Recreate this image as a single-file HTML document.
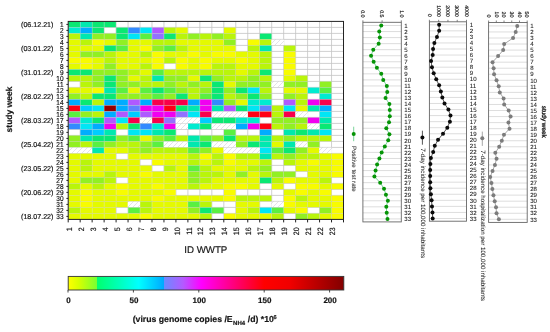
<!DOCTYPE html><html><head><meta charset="utf-8"><title>figure</title><style>
html,body{margin:0;padding:0;background:#fff;width:550px;height:332px;overflow:hidden}
svg{display:block}
text{font-family:"Liberation Sans",Arial,Helvetica,sans-serif;fill:#151515;stroke:#151515;stroke-width:0.18px;text-rendering:geometricPrecision}
</style></head><body>
<svg width="550" height="332" viewBox="0 0 550 332">
<defs><pattern id="hatch" patternUnits="userSpaceOnUse" width="5" height="5"><rect width="5" height="5" fill="#fff"/><path d="M-1,1 l2,-2 M0,5 l5,-5 M4,6 l2,-2" stroke="#dcdce4" stroke-width="0.8"/></pattern>
<linearGradient id="cb" x1="0" x2="1" y1="0" y2="0">
<stop offset="0.0000" stop-color="#ffff00"/>
<stop offset="0.0379" stop-color="#d7ff00"/>
<stop offset="0.1043" stop-color="#78ff32"/>
<stop offset="0.1043" stop-color="#00ff6e"/>
<stop offset="0.1896" stop-color="#00ffbe"/>
<stop offset="0.2559" stop-color="#00ffff"/>
<stop offset="0.3460" stop-color="#00aaff"/>
<stop offset="0.3460" stop-color="#698cff"/>
<stop offset="0.4171" stop-color="#b45aff"/>
<stop offset="0.4834" stop-color="#ff00ff"/>
<stop offset="0.7109" stop-color="#ff0000"/>
<stop offset="0.8057" stop-color="#f00000"/>
<stop offset="1.0000" stop-color="#820000"/>
</linearGradient></defs>
<path d="M80.17 21.40V219.40M92.14 21.40V219.40M104.11 21.40V219.40M116.08 21.40V219.40M128.05 21.40V219.40M140.02 21.40V219.40M151.99 21.40V219.40M163.96 21.40V219.40M175.93 21.40V219.40M187.90 21.40V219.40M199.87 21.40V219.40M211.84 21.40V219.40M223.81 21.40V219.40M235.78 21.40V219.40M247.75 21.40V219.40M259.72 21.40V219.40M271.69 21.40V219.40M283.66 21.40V219.40M295.63 21.40V219.40M307.60 21.40V219.40M319.57 21.40V219.40M331.54 21.40V219.40M68.20 27.40H343.51M68.20 33.40H343.51M68.20 39.40H343.51M68.20 45.40H343.51M68.20 51.40H343.51M68.20 57.40H343.51M68.20 63.40H343.51M68.20 69.40H343.51M68.20 75.40H343.51M68.20 81.40H343.51M68.20 87.40H343.51M68.20 93.40H343.51M68.20 99.40H343.51M68.20 105.40H343.51M68.20 111.40H343.51M68.20 117.40H343.51M68.20 123.40H343.51M68.20 129.40H343.51M68.20 135.40H343.51M68.20 141.40H343.51M68.20 147.40H343.51M68.20 153.40H343.51M68.20 159.40H343.51M68.20 165.40H343.51M68.20 171.40H343.51M68.20 177.40H343.51M68.20 183.40H343.51M68.20 189.40H343.51M68.20 195.40H343.51M68.20 201.40H343.51M68.20 207.40H343.51M68.20 213.40H343.51" stroke="#c4c4c4" stroke-width="0.8" fill="none"/>
<rect x="68.40" y="21.60" width="11.57" height="5.60" fill="#0ae873"/>
<rect x="80.37" y="21.60" width="11.57" height="5.60" fill="#00e8af"/>
<rect x="92.34" y="21.60" width="11.57" height="5.60" fill="#0ae873"/>
<rect x="104.31" y="21.60" width="11.57" height="5.60" fill="#0ae873"/>
<rect x="68.40" y="27.60" width="11.57" height="5.60" fill="#00ebd0"/>
<rect x="80.37" y="27.60" width="11.57" height="5.60" fill="#00acff"/>
<rect x="92.34" y="27.60" width="11.57" height="5.60" fill="#0ae873"/>
<rect x="116.28" y="27.60" width="11.57" height="5.60" fill="#0ae873"/>
<rect x="128.25" y="27.60" width="11.57" height="5.60" fill="#328aff"/>
<rect x="140.22" y="27.60" width="11.57" height="5.60" fill="#00e6f5"/>
<rect x="152.19" y="27.60" width="11.57" height="5.60" fill="#af5aff"/>
<rect x="164.16" y="27.60" width="11.57" height="5.60" fill="#b9f50a"/>
<rect x="176.13" y="27.60" width="11.57" height="5.60" fill="#e4fa00"/>
<rect x="224.01" y="27.60" width="11.57" height="5.60" fill="#e4fa00"/>
<rect x="68.40" y="33.60" width="11.57" height="5.60" fill="#b9f50a"/>
<rect x="80.37" y="33.60" width="11.57" height="5.60" fill="#00e8af"/>
<rect x="92.34" y="33.60" width="11.57" height="5.60" fill="#91f023"/>
<rect x="104.31" y="33.60" width="11.57" height="5.60" fill="#91f023"/>
<rect x="116.28" y="33.60" width="11.57" height="5.60" fill="#0ae873"/>
<rect x="128.25" y="33.60" width="11.57" height="5.60" fill="#00e6f5"/>
<rect x="140.22" y="33.60" width="11.57" height="5.60" fill="#5af041"/>
<rect x="152.19" y="33.60" width="11.57" height="5.60" fill="#9173ff"/>
<rect x="164.16" y="33.60" width="11.57" height="5.60" fill="#0ae873"/>
<rect x="176.13" y="33.60" width="11.57" height="5.60" fill="#b9f50a"/>
<rect x="188.10" y="33.60" width="11.57" height="5.60" fill="#91f023"/>
<rect x="200.07" y="33.60" width="11.57" height="5.60" fill="#b9f50a"/>
<rect x="212.04" y="33.60" width="11.57" height="5.60" fill="#91f023"/>
<rect x="224.01" y="33.60" width="11.57" height="5.60" fill="#b9f50a"/>
<rect x="259.92" y="33.60" width="11.57" height="5.60" fill="#0ae873"/>
<rect x="68.40" y="39.60" width="11.57" height="5.60" fill="#e4fa00"/>
<rect x="80.37" y="39.60" width="11.57" height="5.60" fill="#b9f50a"/>
<rect x="92.34" y="39.60" width="11.57" height="5.60" fill="#f8fc00"/>
<rect x="104.31" y="39.60" width="11.57" height="5.60" fill="#e4fa00"/>
<rect x="116.28" y="39.60" width="11.57" height="5.60" fill="#91f023"/>
<rect x="128.25" y="39.60" width="11.57" height="5.60" fill="#e4fa00"/>
<rect x="140.22" y="39.60" width="11.57" height="5.60" fill="#e4fa00"/>
<rect x="152.19" y="39.60" width="11.57" height="5.60" fill="#b9f50a"/>
<rect x="164.16" y="39.60" width="11.57" height="5.60" fill="#b9f50a"/>
<rect x="176.13" y="39.60" width="11.57" height="5.60" fill="#e4fa00"/>
<rect x="188.10" y="39.60" width="11.57" height="5.60" fill="#e4fa00"/>
<rect x="200.07" y="39.60" width="11.57" height="5.60" fill="#e4fa00"/>
<rect x="212.04" y="39.60" width="11.57" height="5.60" fill="#e4fa00"/>
<rect x="224.01" y="39.60" width="11.57" height="5.60" fill="#91f023"/>
<rect x="247.95" y="39.60" width="11.57" height="5.60" fill="#f8fc00"/>
<rect x="259.92" y="39.60" width="11.57" height="5.60" fill="#b9f50a"/>
<rect x="271.39" y="39.70" width="12.57" height="5.40" fill="url(#hatch)"/>
<rect x="68.40" y="45.60" width="11.57" height="5.60" fill="#e4fa00"/>
<rect x="80.37" y="45.60" width="11.57" height="5.60" fill="#e4fa00"/>
<rect x="92.34" y="45.60" width="11.57" height="5.60" fill="#e4fa00"/>
<rect x="104.31" y="45.60" width="11.57" height="5.60" fill="#0ae873"/>
<rect x="116.28" y="45.60" width="11.57" height="5.60" fill="#5af041"/>
<rect x="128.25" y="45.60" width="11.57" height="5.60" fill="#e4fa00"/>
<rect x="140.22" y="45.60" width="11.57" height="5.60" fill="#f8fc00"/>
<rect x="152.19" y="45.60" width="11.57" height="5.60" fill="#91f023"/>
<rect x="164.16" y="45.60" width="11.57" height="5.60" fill="#5af041"/>
<rect x="176.13" y="45.60" width="11.57" height="5.60" fill="#b9f50a"/>
<rect x="188.10" y="45.60" width="11.57" height="5.60" fill="#e4fa00"/>
<rect x="200.07" y="45.60" width="11.57" height="5.60" fill="#e4fa00"/>
<rect x="212.04" y="45.60" width="11.57" height="5.60" fill="#e4fa00"/>
<rect x="224.01" y="45.60" width="11.57" height="5.60" fill="#e4fa00"/>
<rect x="247.95" y="45.60" width="11.57" height="5.60" fill="#b9f50a"/>
<rect x="259.92" y="45.60" width="11.57" height="5.60" fill="#00e8af"/>
<rect x="283.86" y="45.60" width="11.57" height="5.60" fill="#b9f50a"/>
<rect x="68.40" y="51.60" width="11.57" height="5.60" fill="#e4fa00"/>
<rect x="80.37" y="51.60" width="11.57" height="5.60" fill="#91f023"/>
<rect x="92.34" y="51.60" width="11.57" height="5.60" fill="#91f023"/>
<rect x="104.31" y="51.60" width="11.57" height="5.60" fill="#b9f50a"/>
<rect x="116.28" y="51.60" width="11.57" height="5.60" fill="#e4fa00"/>
<rect x="128.25" y="51.60" width="11.57" height="5.60" fill="#e4fa00"/>
<rect x="140.22" y="51.60" width="11.57" height="5.60" fill="#b9f50a"/>
<rect x="152.19" y="51.60" width="11.57" height="5.60" fill="#f8fc00"/>
<rect x="164.16" y="51.60" width="11.57" height="5.60" fill="#e4fa00"/>
<rect x="176.13" y="51.60" width="11.57" height="5.60" fill="#e4fa00"/>
<rect x="188.10" y="51.60" width="11.57" height="5.60" fill="#f8fc00"/>
<rect x="200.07" y="51.60" width="11.57" height="5.60" fill="#e4fa00"/>
<rect x="212.04" y="51.60" width="11.57" height="5.60" fill="#f8fc00"/>
<rect x="224.01" y="51.60" width="11.57" height="5.60" fill="#f8fc00"/>
<rect x="235.98" y="51.60" width="11.57" height="5.60" fill="#e4fa00"/>
<rect x="247.95" y="51.60" width="11.57" height="5.60" fill="#e4fa00"/>
<rect x="259.92" y="51.60" width="11.57" height="5.60" fill="#b9f50a"/>
<rect x="283.86" y="51.60" width="11.57" height="5.60" fill="#f8fc00"/>
<rect x="68.40" y="57.60" width="11.57" height="5.60" fill="#f8fc00"/>
<rect x="80.37" y="57.60" width="11.57" height="5.60" fill="#f8fc00"/>
<rect x="92.34" y="57.60" width="11.57" height="5.60" fill="#e4fa00"/>
<rect x="104.31" y="57.60" width="11.57" height="5.60" fill="#b9f50a"/>
<rect x="116.28" y="57.60" width="11.57" height="5.60" fill="#e4fa00"/>
<rect x="128.25" y="57.60" width="11.57" height="5.60" fill="#e4fa00"/>
<rect x="140.22" y="57.60" width="11.57" height="5.60" fill="#e4fa00"/>
<rect x="152.19" y="57.60" width="11.57" height="5.60" fill="#f8fc00"/>
<rect x="164.16" y="57.60" width="11.57" height="5.60" fill="#b9f50a"/>
<rect x="176.13" y="57.60" width="11.57" height="5.60" fill="#f8fc00"/>
<rect x="188.10" y="57.60" width="11.57" height="5.60" fill="#e4fa00"/>
<rect x="200.07" y="57.60" width="11.57" height="5.60" fill="#f8fc00"/>
<rect x="212.04" y="57.60" width="11.57" height="5.60" fill="#e4fa00"/>
<rect x="224.01" y="57.60" width="11.57" height="5.60" fill="#e4fa00"/>
<rect x="235.98" y="57.60" width="11.57" height="5.60" fill="#f8fc00"/>
<rect x="247.95" y="57.60" width="11.57" height="5.60" fill="#e4fa00"/>
<rect x="259.92" y="57.60" width="11.57" height="5.60" fill="#b9f50a"/>
<rect x="283.86" y="57.60" width="11.57" height="5.60" fill="#f8fc00"/>
<rect x="68.40" y="63.60" width="11.57" height="5.60" fill="#e4fa00"/>
<rect x="80.37" y="63.60" width="11.57" height="5.60" fill="#f8fc00"/>
<rect x="92.34" y="63.60" width="11.57" height="5.60" fill="#e4fa00"/>
<rect x="104.31" y="63.60" width="11.57" height="5.60" fill="#91f023"/>
<rect x="116.28" y="63.60" width="11.57" height="5.60" fill="#e4fa00"/>
<rect x="128.25" y="63.60" width="11.57" height="5.60" fill="#e4fa00"/>
<rect x="140.22" y="63.60" width="11.57" height="5.60" fill="#b9f50a"/>
<rect x="152.19" y="63.60" width="11.57" height="5.60" fill="#f8fc00"/>
<rect x="176.13" y="63.60" width="11.57" height="5.60" fill="#f8fc00"/>
<rect x="188.10" y="63.60" width="11.57" height="5.60" fill="#e4fa00"/>
<rect x="200.07" y="63.60" width="11.57" height="5.60" fill="#f8fc00"/>
<rect x="212.04" y="63.60" width="11.57" height="5.60" fill="#b9f50a"/>
<rect x="224.01" y="63.60" width="11.57" height="5.60" fill="#b9f50a"/>
<rect x="235.98" y="63.60" width="11.57" height="5.60" fill="#e4fa00"/>
<rect x="247.95" y="63.60" width="11.57" height="5.60" fill="#e4fa00"/>
<rect x="259.92" y="63.60" width="11.57" height="5.60" fill="#b9f50a"/>
<rect x="283.86" y="63.60" width="11.57" height="5.60" fill="#f8fc00"/>
<rect x="68.40" y="69.60" width="11.57" height="5.60" fill="#0ae873"/>
<rect x="80.37" y="69.60" width="11.57" height="5.60" fill="#0ae873"/>
<rect x="92.34" y="69.60" width="11.57" height="5.60" fill="#91f023"/>
<rect x="104.31" y="69.60" width="11.57" height="5.60" fill="#91f023"/>
<rect x="116.28" y="69.60" width="11.57" height="5.60" fill="#91f023"/>
<rect x="128.25" y="69.60" width="11.57" height="5.60" fill="#b9f50a"/>
<rect x="140.22" y="69.60" width="11.57" height="5.60" fill="#e4fa00"/>
<rect x="152.19" y="69.60" width="11.57" height="5.60" fill="#5af041"/>
<rect x="164.16" y="69.60" width="11.57" height="5.60" fill="#b9f50a"/>
<rect x="176.13" y="69.60" width="11.57" height="5.60" fill="#b9f50a"/>
<rect x="188.10" y="69.60" width="11.57" height="5.60" fill="#b9f50a"/>
<rect x="200.07" y="69.60" width="11.57" height="5.60" fill="#b9f50a"/>
<rect x="212.04" y="69.60" width="11.57" height="5.60" fill="#b9f50a"/>
<rect x="224.01" y="69.60" width="11.57" height="5.60" fill="#b9f50a"/>
<rect x="235.98" y="69.60" width="11.57" height="5.60" fill="#e4fa00"/>
<rect x="247.95" y="69.60" width="11.57" height="5.60" fill="#b9f50a"/>
<rect x="259.92" y="69.60" width="11.57" height="5.60" fill="#0ae873"/>
<rect x="283.86" y="69.60" width="11.57" height="5.60" fill="#f8fc00"/>
<rect x="68.40" y="75.60" width="11.57" height="5.60" fill="#b9f50a"/>
<rect x="80.37" y="75.60" width="11.57" height="5.60" fill="#b9f50a"/>
<rect x="92.34" y="75.60" width="11.57" height="5.60" fill="#91f023"/>
<rect x="104.31" y="75.60" width="11.57" height="5.60" fill="#0ae873"/>
<rect x="116.28" y="75.60" width="11.57" height="5.60" fill="#91f023"/>
<rect x="128.25" y="75.60" width="11.57" height="5.60" fill="#e4fa00"/>
<rect x="140.22" y="75.60" width="11.57" height="5.60" fill="#b9f50a"/>
<rect x="152.19" y="75.60" width="11.57" height="5.60" fill="#00e8af"/>
<rect x="164.16" y="75.60" width="11.57" height="5.60" fill="#91f023"/>
<rect x="176.13" y="75.60" width="11.57" height="5.60" fill="#91f023"/>
<rect x="188.10" y="75.60" width="11.57" height="5.60" fill="#e4fa00"/>
<rect x="200.07" y="75.60" width="11.57" height="5.60" fill="#0ae873"/>
<rect x="212.04" y="75.60" width="11.57" height="5.60" fill="#91f023"/>
<rect x="224.01" y="75.60" width="11.57" height="5.60" fill="#b9f50a"/>
<rect x="235.98" y="75.60" width="11.57" height="5.60" fill="#b9f50a"/>
<rect x="247.95" y="75.60" width="11.57" height="5.60" fill="#91f023"/>
<rect x="259.92" y="75.60" width="11.57" height="5.60" fill="#b9f50a"/>
<rect x="283.86" y="75.60" width="11.57" height="5.60" fill="#e4fa00"/>
<rect x="295.83" y="75.60" width="11.57" height="5.60" fill="#b9f50a"/>
<rect x="80.37" y="81.60" width="11.57" height="5.60" fill="#b9f50a"/>
<rect x="92.34" y="81.60" width="11.57" height="5.60" fill="#91f023"/>
<rect x="104.31" y="81.60" width="11.57" height="5.60" fill="#0ae873"/>
<rect x="116.28" y="81.60" width="11.57" height="5.60" fill="#91f023"/>
<rect x="128.25" y="81.60" width="11.57" height="5.60" fill="#91f023"/>
<rect x="140.22" y="81.60" width="11.57" height="5.60" fill="#b9f50a"/>
<rect x="152.19" y="81.60" width="11.57" height="5.60" fill="#b9f50a"/>
<rect x="164.16" y="81.60" width="11.57" height="5.60" fill="#91f023"/>
<rect x="176.13" y="81.60" width="11.57" height="5.60" fill="#b9f50a"/>
<rect x="188.10" y="81.60" width="11.57" height="5.60" fill="#91f023"/>
<rect x="200.07" y="81.60" width="11.57" height="5.60" fill="#b9f50a"/>
<rect x="212.04" y="81.60" width="11.57" height="5.60" fill="#0ae873"/>
<rect x="224.01" y="81.60" width="11.57" height="5.60" fill="#e4fa00"/>
<rect x="235.98" y="81.60" width="11.57" height="5.60" fill="#91f023"/>
<rect x="247.95" y="81.60" width="11.57" height="5.60" fill="#91f023"/>
<rect x="259.92" y="81.60" width="11.57" height="5.60" fill="#91f023"/>
<rect x="271.39" y="81.70" width="12.57" height="5.40" fill="url(#hatch)"/>
<rect x="283.86" y="81.60" width="11.57" height="5.60" fill="#91f023"/>
<rect x="295.83" y="81.60" width="11.57" height="5.60" fill="#91f023"/>
<rect x="319.77" y="81.60" width="11.57" height="5.60" fill="#91f023"/>
<rect x="68.40" y="87.60" width="11.57" height="5.60" fill="#e4fa00"/>
<rect x="80.37" y="87.60" width="11.57" height="5.60" fill="#e4fa00"/>
<rect x="92.34" y="87.60" width="11.57" height="5.60" fill="#f8fc00"/>
<rect x="104.31" y="87.60" width="11.57" height="5.60" fill="#00e8af"/>
<rect x="116.28" y="87.60" width="11.57" height="5.60" fill="#5af041"/>
<rect x="128.25" y="87.60" width="11.57" height="5.60" fill="#e4fa00"/>
<rect x="140.22" y="87.60" width="11.57" height="5.60" fill="#5af041"/>
<rect x="152.19" y="87.60" width="11.57" height="5.60" fill="#0ae873"/>
<rect x="164.16" y="87.60" width="11.57" height="5.60" fill="#5af041"/>
<rect x="176.13" y="87.60" width="11.57" height="5.60" fill="#91f023"/>
<rect x="188.10" y="87.60" width="11.57" height="5.60" fill="#b9f50a"/>
<rect x="200.07" y="87.60" width="11.57" height="5.60" fill="#91f023"/>
<rect x="212.04" y="87.60" width="11.57" height="5.60" fill="#0ae873"/>
<rect x="224.01" y="87.60" width="11.57" height="5.60" fill="#91f023"/>
<rect x="235.98" y="87.60" width="11.57" height="5.60" fill="#0ae873"/>
<rect x="247.95" y="87.60" width="11.57" height="5.60" fill="#00e6f5"/>
<rect x="259.92" y="87.60" width="11.57" height="5.60" fill="#b9f50a"/>
<rect x="283.86" y="87.60" width="11.57" height="5.60" fill="#e4fa00"/>
<rect x="295.83" y="87.60" width="11.57" height="5.60" fill="#e4fa00"/>
<rect x="307.80" y="87.60" width="11.57" height="5.60" fill="#00ebd0"/>
<rect x="319.77" y="87.60" width="11.57" height="5.60" fill="#5af041"/>
<rect x="68.40" y="93.60" width="11.57" height="5.60" fill="#91f023"/>
<rect x="80.37" y="93.60" width="11.57" height="5.60" fill="#b9f50a"/>
<rect x="92.34" y="93.60" width="11.57" height="5.60" fill="#0ae873"/>
<rect x="104.31" y="93.60" width="11.57" height="5.60" fill="#0ae873"/>
<rect x="116.28" y="93.60" width="11.57" height="5.60" fill="#91f023"/>
<rect x="128.25" y="93.60" width="11.57" height="5.60" fill="#91f023"/>
<rect x="140.22" y="93.60" width="11.57" height="5.60" fill="#91f023"/>
<rect x="152.19" y="93.60" width="11.57" height="5.60" fill="#5af041"/>
<rect x="164.16" y="93.60" width="11.57" height="5.60" fill="#91f023"/>
<rect x="176.13" y="93.60" width="11.57" height="5.60" fill="#0ae873"/>
<rect x="188.10" y="93.60" width="11.57" height="5.60" fill="#b9f50a"/>
<rect x="200.07" y="93.60" width="11.57" height="5.60" fill="#5af041"/>
<rect x="212.04" y="93.60" width="11.57" height="5.60" fill="#0ae873"/>
<rect x="224.01" y="93.60" width="11.57" height="5.60" fill="#b9f50a"/>
<rect x="235.98" y="93.60" width="11.57" height="5.60" fill="#91f023"/>
<rect x="247.95" y="93.60" width="11.57" height="5.60" fill="#0ae873"/>
<rect x="259.92" y="93.60" width="11.57" height="5.60" fill="#91f023"/>
<rect x="283.86" y="93.60" width="11.57" height="5.60" fill="#91f023"/>
<rect x="295.83" y="93.60" width="11.57" height="5.60" fill="#b9f50a"/>
<rect x="319.77" y="93.60" width="11.57" height="5.60" fill="#00ebd0"/>
<rect x="68.40" y="99.60" width="11.57" height="5.60" fill="#00acff"/>
<rect x="80.37" y="99.60" width="11.57" height="5.60" fill="#0ae873"/>
<rect x="92.34" y="99.60" width="11.57" height="5.60" fill="#b9f50a"/>
<rect x="104.31" y="99.60" width="11.57" height="5.60" fill="#00acff"/>
<rect x="116.28" y="99.60" width="11.57" height="5.60" fill="#00acff"/>
<rect x="128.25" y="99.60" width="11.57" height="5.60" fill="#af5aff"/>
<rect x="140.22" y="99.60" width="11.57" height="5.60" fill="#00acff"/>
<rect x="152.19" y="99.60" width="11.57" height="5.60" fill="#f8004b"/>
<rect x="164.16" y="99.60" width="11.57" height="5.60" fill="#f8004b"/>
<rect x="176.13" y="99.60" width="11.57" height="5.60" fill="#f8004b"/>
<rect x="188.10" y="99.60" width="11.57" height="5.60" fill="#00acff"/>
<rect x="200.07" y="99.60" width="11.57" height="5.60" fill="#f000f0"/>
<rect x="212.04" y="99.60" width="11.57" height="5.60" fill="#328aff"/>
<rect x="224.01" y="99.60" width="11.57" height="5.60" fill="#91f023"/>
<rect x="235.98" y="99.60" width="11.57" height="5.60" fill="#e4fa00"/>
<rect x="247.95" y="99.60" width="11.57" height="5.60" fill="#00ebd0"/>
<rect x="259.92" y="99.60" width="11.57" height="5.60" fill="#00ebd0"/>
<rect x="283.86" y="99.60" width="11.57" height="5.60" fill="#af5aff"/>
<rect x="295.83" y="99.60" width="11.57" height="5.60" fill="#b9f50a"/>
<rect x="307.80" y="99.60" width="11.57" height="5.60" fill="#f000f0"/>
<rect x="319.77" y="99.60" width="11.57" height="5.60" fill="#f8004b"/>
<rect x="68.40" y="105.60" width="11.57" height="5.60" fill="#ff0014"/>
<rect x="80.37" y="105.60" width="11.57" height="5.60" fill="#00cdff"/>
<rect x="92.34" y="105.60" width="11.57" height="5.60" fill="#00e6f5"/>
<rect x="104.31" y="105.60" width="11.57" height="5.60" fill="#960000"/>
<rect x="116.28" y="105.60" width="11.57" height="5.60" fill="#00acff"/>
<rect x="128.25" y="105.60" width="11.57" height="5.60" fill="#5f82ff"/>
<rect x="140.22" y="105.60" width="11.57" height="5.60" fill="#f000f0"/>
<rect x="152.19" y="105.60" width="11.57" height="5.60" fill="#f000f0"/>
<rect x="164.16" y="105.60" width="11.57" height="5.60" fill="#ff0014"/>
<rect x="176.13" y="105.60" width="11.57" height="5.60" fill="#0ae873"/>
<rect x="188.10" y="105.60" width="11.57" height="5.60" fill="#00e8af"/>
<rect x="200.07" y="105.60" width="11.57" height="5.60" fill="#f000f0"/>
<rect x="212.04" y="105.60" width="11.57" height="5.60" fill="#00e8af"/>
<rect x="224.01" y="105.60" width="11.57" height="5.60" fill="#af5aff"/>
<rect x="235.98" y="105.60" width="11.57" height="5.60" fill="#0ae873"/>
<rect x="247.95" y="105.60" width="11.57" height="5.60" fill="#00e6f5"/>
<rect x="259.92" y="105.60" width="11.57" height="5.60" fill="#5f82ff"/>
<rect x="271.89" y="105.60" width="11.57" height="5.60" fill="#b9f50a"/>
<rect x="283.86" y="105.60" width="11.57" height="5.60" fill="#00e6f5"/>
<rect x="295.83" y="105.60" width="11.57" height="5.60" fill="#e4fa00"/>
<rect x="307.80" y="105.60" width="11.57" height="5.60" fill="#00e8af"/>
<rect x="319.77" y="105.60" width="11.57" height="5.60" fill="#00acff"/>
<rect x="68.40" y="111.60" width="11.57" height="5.60" fill="#5af041"/>
<rect x="80.37" y="111.60" width="11.57" height="5.60" fill="#91f023"/>
<rect x="92.34" y="111.60" width="11.57" height="5.60" fill="#b9f50a"/>
<rect x="104.31" y="111.60" width="11.57" height="5.60" fill="#00acff"/>
<rect x="116.28" y="111.60" width="11.57" height="5.60" fill="#af5aff"/>
<rect x="128.25" y="111.60" width="11.57" height="5.60" fill="#00cdff"/>
<rect x="140.22" y="111.60" width="11.57" height="5.60" fill="#af5aff"/>
<rect x="152.19" y="111.60" width="11.57" height="5.60" fill="#f000f0"/>
<rect x="164.16" y="111.60" width="11.57" height="5.60" fill="#f000f0"/>
<rect x="176.13" y="111.60" width="11.57" height="5.60" fill="#9173ff"/>
<rect x="188.10" y="111.60" width="11.57" height="5.60" fill="#00e6f5"/>
<rect x="200.07" y="111.60" width="11.57" height="5.60" fill="#f8004b"/>
<rect x="211.54" y="111.70" width="12.57" height="5.40" fill="url(#hatch)"/>
<rect x="223.51" y="111.70" width="12.57" height="5.40" fill="url(#hatch)"/>
<rect x="235.48" y="111.70" width="12.57" height="5.40" fill="url(#hatch)"/>
<rect x="247.95" y="111.60" width="11.57" height="5.60" fill="#ff0014"/>
<rect x="259.92" y="111.60" width="11.57" height="5.60" fill="#ff0014"/>
<rect x="271.89" y="111.60" width="11.57" height="5.60" fill="#b9f50a"/>
<rect x="283.86" y="111.60" width="11.57" height="5.60" fill="#f8004b"/>
<rect x="295.33" y="111.70" width="12.57" height="5.40" fill="url(#hatch)"/>
<rect x="319.77" y="111.60" width="11.57" height="5.60" fill="#00e6f5"/>
<rect x="68.40" y="117.60" width="11.57" height="5.60" fill="#af5aff"/>
<rect x="80.37" y="117.60" width="11.57" height="5.60" fill="#00ebd0"/>
<rect x="92.34" y="117.60" width="11.57" height="5.60" fill="#0ae873"/>
<rect x="104.31" y="117.60" width="11.57" height="5.60" fill="#af5aff"/>
<rect x="116.28" y="117.60" width="11.57" height="5.60" fill="#00e6f5"/>
<rect x="128.25" y="117.60" width="11.57" height="5.60" fill="#f8004b"/>
<rect x="139.72" y="117.70" width="12.57" height="5.40" fill="url(#hatch)"/>
<rect x="152.19" y="117.60" width="11.57" height="5.60" fill="#f8004b"/>
<rect x="164.16" y="117.60" width="11.57" height="5.60" fill="#9173ff"/>
<rect x="175.63" y="117.70" width="12.57" height="5.40" fill="url(#hatch)"/>
<rect x="187.60" y="117.70" width="12.57" height="5.40" fill="url(#hatch)"/>
<rect x="200.07" y="117.60" width="11.57" height="5.60" fill="#00cdff"/>
<rect x="212.04" y="117.60" width="11.57" height="5.60" fill="#0ae873"/>
<rect x="224.01" y="117.60" width="11.57" height="5.60" fill="#0ae873"/>
<rect x="235.98" y="117.60" width="11.57" height="5.60" fill="#00ebd0"/>
<rect x="247.95" y="117.60" width="11.57" height="5.60" fill="#00ebd0"/>
<rect x="271.89" y="117.60" width="11.57" height="5.60" fill="#91f023"/>
<rect x="283.86" y="117.60" width="11.57" height="5.60" fill="#91f023"/>
<rect x="295.83" y="117.60" width="11.57" height="5.60" fill="#91f023"/>
<rect x="307.80" y="117.60" width="11.57" height="5.60" fill="#f000f0"/>
<rect x="319.77" y="117.60" width="11.57" height="5.60" fill="#00e8af"/>
<rect x="68.40" y="123.60" width="11.57" height="5.60" fill="#328aff"/>
<rect x="80.37" y="123.60" width="11.57" height="5.60" fill="#00e6f5"/>
<rect x="92.34" y="123.60" width="11.57" height="5.60" fill="#00acff"/>
<rect x="104.31" y="123.60" width="11.57" height="5.60" fill="#f000f0"/>
<rect x="116.28" y="123.60" width="11.57" height="5.60" fill="#b9f50a"/>
<rect x="128.25" y="123.60" width="11.57" height="5.60" fill="#0ae873"/>
<rect x="140.22" y="123.60" width="11.57" height="5.60" fill="#328aff"/>
<rect x="152.19" y="123.60" width="11.57" height="5.60" fill="#00ebd0"/>
<rect x="164.16" y="123.60" width="11.57" height="5.60" fill="#f000f0"/>
<rect x="175.63" y="123.70" width="12.57" height="5.40" fill="url(#hatch)"/>
<rect x="188.10" y="123.60" width="11.57" height="5.60" fill="#00ebd0"/>
<rect x="200.07" y="123.60" width="11.57" height="5.60" fill="#0ae873"/>
<rect x="211.54" y="123.70" width="12.57" height="5.40" fill="url(#hatch)"/>
<rect x="223.51" y="123.70" width="12.57" height="5.40" fill="url(#hatch)"/>
<rect x="235.98" y="123.60" width="11.57" height="5.60" fill="#00acff"/>
<rect x="247.95" y="123.60" width="11.57" height="5.60" fill="#f000f0"/>
<rect x="259.92" y="123.60" width="11.57" height="5.60" fill="#ff0014"/>
<rect x="271.89" y="123.60" width="11.57" height="5.60" fill="#b9f50a"/>
<rect x="283.86" y="123.60" width="11.57" height="5.60" fill="#91f023"/>
<rect x="295.83" y="123.60" width="11.57" height="5.60" fill="#b9f50a"/>
<rect x="307.30" y="123.70" width="12.57" height="5.40" fill="url(#hatch)"/>
<rect x="319.77" y="123.60" width="11.57" height="5.60" fill="#0ae873"/>
<rect x="80.37" y="129.60" width="11.57" height="5.60" fill="#00acff"/>
<rect x="92.34" y="129.60" width="11.57" height="5.60" fill="#00cdff"/>
<rect x="104.31" y="129.60" width="11.57" height="5.60" fill="#00e8af"/>
<rect x="128.25" y="129.60" width="11.57" height="5.60" fill="#00e6f5"/>
<rect x="140.22" y="129.60" width="11.57" height="5.60" fill="#00e6f5"/>
<rect x="152.19" y="129.60" width="11.57" height="5.60" fill="#00e8af"/>
<rect x="164.16" y="129.60" width="11.57" height="5.60" fill="#0ae873"/>
<rect x="224.01" y="129.60" width="11.57" height="5.60" fill="#5af041"/>
<rect x="259.92" y="129.60" width="11.57" height="5.60" fill="#00acff"/>
<rect x="283.86" y="129.60" width="11.57" height="5.60" fill="#00e8af"/>
<rect x="295.83" y="129.60" width="11.57" height="5.60" fill="#0ae873"/>
<rect x="307.80" y="129.60" width="11.57" height="5.60" fill="#00e8af"/>
<rect x="319.77" y="129.60" width="11.57" height="5.60" fill="#00e6f5"/>
<rect x="68.40" y="135.60" width="11.57" height="5.60" fill="#91f023"/>
<rect x="80.37" y="135.60" width="11.57" height="5.60" fill="#00e8af"/>
<rect x="92.34" y="135.60" width="11.57" height="5.60" fill="#0ae873"/>
<rect x="104.31" y="135.60" width="11.57" height="5.60" fill="#0ae873"/>
<rect x="116.28" y="135.60" width="11.57" height="5.60" fill="#91f023"/>
<rect x="128.25" y="135.60" width="11.57" height="5.60" fill="#5af041"/>
<rect x="140.22" y="135.60" width="11.57" height="5.60" fill="#e4fa00"/>
<rect x="152.19" y="135.60" width="11.57" height="5.60" fill="#91f023"/>
<rect x="164.16" y="135.60" width="11.57" height="5.60" fill="#5af041"/>
<rect x="176.13" y="135.60" width="11.57" height="5.60" fill="#b9f50a"/>
<rect x="188.10" y="135.60" width="11.57" height="5.60" fill="#00e8af"/>
<rect x="200.07" y="135.60" width="11.57" height="5.60" fill="#5af041"/>
<rect x="212.04" y="135.60" width="11.57" height="5.60" fill="#91f023"/>
<rect x="224.01" y="135.60" width="11.57" height="5.60" fill="#0ae873"/>
<rect x="235.98" y="135.60" width="11.57" height="5.60" fill="#b9f50a"/>
<rect x="247.95" y="135.60" width="11.57" height="5.60" fill="#b9f50a"/>
<rect x="259.92" y="135.60" width="11.57" height="5.60" fill="#00e8af"/>
<rect x="271.89" y="135.60" width="11.57" height="5.60" fill="#b9f50a"/>
<rect x="283.86" y="135.60" width="11.57" height="5.60" fill="#91f023"/>
<rect x="295.83" y="135.60" width="11.57" height="5.60" fill="#b9f50a"/>
<rect x="307.80" y="135.60" width="11.57" height="5.60" fill="#b9f50a"/>
<rect x="319.77" y="135.60" width="11.57" height="5.60" fill="#b9f50a"/>
<rect x="68.40" y="141.60" width="11.57" height="5.60" fill="#91f023"/>
<rect x="80.37" y="141.60" width="11.57" height="5.60" fill="#b9f50a"/>
<rect x="92.34" y="141.60" width="11.57" height="5.60" fill="#5af041"/>
<rect x="104.31" y="141.60" width="11.57" height="5.60" fill="#91f023"/>
<rect x="116.28" y="141.60" width="11.57" height="5.60" fill="#b9f50a"/>
<rect x="128.25" y="141.60" width="11.57" height="5.60" fill="#b9f50a"/>
<rect x="140.22" y="141.60" width="11.57" height="5.60" fill="#91f023"/>
<rect x="152.19" y="141.60" width="11.57" height="5.60" fill="#5af041"/>
<rect x="163.66" y="141.70" width="12.57" height="5.40" fill="url(#hatch)"/>
<rect x="175.63" y="141.70" width="12.57" height="5.40" fill="url(#hatch)"/>
<rect x="188.10" y="141.60" width="11.57" height="5.60" fill="#00e8af"/>
<rect x="200.07" y="141.60" width="11.57" height="5.60" fill="#0ae873"/>
<rect x="211.54" y="141.70" width="12.57" height="5.40" fill="url(#hatch)"/>
<rect x="223.51" y="141.70" width="12.57" height="5.40" fill="url(#hatch)"/>
<rect x="235.98" y="141.60" width="11.57" height="5.60" fill="#91f023"/>
<rect x="247.95" y="141.60" width="11.57" height="5.60" fill="#0ae873"/>
<rect x="259.92" y="141.60" width="11.57" height="5.60" fill="#00e8af"/>
<rect x="271.89" y="141.60" width="11.57" height="5.60" fill="#e4fa00"/>
<rect x="283.86" y="141.60" width="11.57" height="5.60" fill="#00e8af"/>
<rect x="295.33" y="141.70" width="12.57" height="5.40" fill="url(#hatch)"/>
<rect x="307.80" y="141.60" width="11.57" height="5.60" fill="#91f023"/>
<rect x="67.90" y="147.70" width="12.57" height="5.40" fill="url(#hatch)"/>
<rect x="79.87" y="147.70" width="12.57" height="5.40" fill="url(#hatch)"/>
<rect x="92.34" y="147.60" width="11.57" height="5.60" fill="#00e8af"/>
<rect x="104.31" y="147.60" width="11.57" height="5.60" fill="#e4fa00"/>
<rect x="116.28" y="147.60" width="11.57" height="5.60" fill="#e4fa00"/>
<rect x="128.25" y="147.60" width="11.57" height="5.60" fill="#b9f50a"/>
<rect x="140.22" y="147.60" width="11.57" height="5.60" fill="#91f023"/>
<rect x="152.19" y="147.60" width="11.57" height="5.60" fill="#b9f50a"/>
<rect x="164.16" y="147.60" width="11.57" height="5.60" fill="#b9f50a"/>
<rect x="176.13" y="147.60" width="11.57" height="5.60" fill="#b9f50a"/>
<rect x="188.10" y="147.60" width="11.57" height="5.60" fill="#5af041"/>
<rect x="200.07" y="147.60" width="11.57" height="5.60" fill="#91f023"/>
<rect x="212.04" y="147.60" width="11.57" height="5.60" fill="#e4fa00"/>
<rect x="223.51" y="147.70" width="12.57" height="5.40" fill="url(#hatch)"/>
<rect x="235.48" y="147.70" width="12.57" height="5.40" fill="url(#hatch)"/>
<rect x="247.45" y="147.70" width="12.57" height="5.40" fill="url(#hatch)"/>
<rect x="259.92" y="147.60" width="11.57" height="5.60" fill="#00e6f5"/>
<rect x="271.89" y="147.60" width="11.57" height="5.60" fill="#5af041"/>
<rect x="283.86" y="147.60" width="11.57" height="5.60" fill="#0ae873"/>
<rect x="295.83" y="147.60" width="11.57" height="5.60" fill="#91f023"/>
<rect x="307.80" y="147.60" width="11.57" height="5.60" fill="#e4fa00"/>
<rect x="319.27" y="147.70" width="12.57" height="5.40" fill="url(#hatch)"/>
<rect x="68.40" y="153.60" width="11.57" height="5.60" fill="#e4fa00"/>
<rect x="80.37" y="153.60" width="11.57" height="5.60" fill="#e4fa00"/>
<rect x="92.34" y="153.60" width="11.57" height="5.60" fill="#e4fa00"/>
<rect x="104.31" y="153.60" width="11.57" height="5.60" fill="#e4fa00"/>
<rect x="128.25" y="153.60" width="11.57" height="5.60" fill="#e4fa00"/>
<rect x="140.22" y="153.60" width="11.57" height="5.60" fill="#e4fa00"/>
<rect x="152.19" y="153.60" width="11.57" height="5.60" fill="#e4fa00"/>
<rect x="164.16" y="153.60" width="11.57" height="5.60" fill="#e4fa00"/>
<rect x="176.13" y="153.60" width="11.57" height="5.60" fill="#e4fa00"/>
<rect x="188.10" y="153.60" width="11.57" height="5.60" fill="#b9f50a"/>
<rect x="200.07" y="153.60" width="11.57" height="5.60" fill="#f8fc00"/>
<rect x="212.04" y="153.60" width="11.57" height="5.60" fill="#b9f50a"/>
<rect x="224.01" y="153.60" width="11.57" height="5.60" fill="#f8fc00"/>
<rect x="235.98" y="153.60" width="11.57" height="5.60" fill="#b9f50a"/>
<rect x="247.95" y="153.60" width="11.57" height="5.60" fill="#b9f50a"/>
<rect x="259.92" y="153.60" width="11.57" height="5.60" fill="#00e8af"/>
<rect x="271.89" y="153.60" width="11.57" height="5.60" fill="#b9f50a"/>
<rect x="283.86" y="153.60" width="11.57" height="5.60" fill="#91f023"/>
<rect x="295.83" y="153.60" width="11.57" height="5.60" fill="#b9f50a"/>
<rect x="307.80" y="153.60" width="11.57" height="5.60" fill="#b9f50a"/>
<rect x="319.77" y="153.60" width="11.57" height="5.60" fill="#e4fa00"/>
<rect x="331.74" y="153.60" width="11.57" height="5.60" fill="#f8fc00"/>
<rect x="68.40" y="159.60" width="11.57" height="5.60" fill="#e4fa00"/>
<rect x="80.37" y="159.60" width="11.57" height="5.60" fill="#b9f50a"/>
<rect x="92.34" y="159.60" width="11.57" height="5.60" fill="#e4fa00"/>
<rect x="104.31" y="159.60" width="11.57" height="5.60" fill="#e4fa00"/>
<rect x="116.28" y="159.60" width="11.57" height="5.60" fill="#e4fa00"/>
<rect x="128.25" y="159.60" width="11.57" height="5.60" fill="#e4fa00"/>
<rect x="152.19" y="159.60" width="11.57" height="5.60" fill="#f8fc00"/>
<rect x="164.16" y="159.60" width="11.57" height="5.60" fill="#e4fa00"/>
<rect x="176.13" y="159.60" width="11.57" height="5.60" fill="#e4fa00"/>
<rect x="188.10" y="159.60" width="11.57" height="5.60" fill="#b9f50a"/>
<rect x="200.07" y="159.60" width="11.57" height="5.60" fill="#e4fa00"/>
<rect x="212.04" y="159.60" width="11.57" height="5.60" fill="#b9f50a"/>
<rect x="224.01" y="159.60" width="11.57" height="5.60" fill="#f8fc00"/>
<rect x="235.98" y="159.60" width="11.57" height="5.60" fill="#e4fa00"/>
<rect x="247.95" y="159.60" width="11.57" height="5.60" fill="#e4fa00"/>
<rect x="259.92" y="159.60" width="11.57" height="5.60" fill="#b9f50a"/>
<rect x="283.86" y="159.60" width="11.57" height="5.60" fill="#b9f50a"/>
<rect x="295.83" y="159.60" width="11.57" height="5.60" fill="#e4fa00"/>
<rect x="307.80" y="159.60" width="11.57" height="5.60" fill="#f8fc00"/>
<rect x="319.77" y="159.60" width="11.57" height="5.60" fill="#e4fa00"/>
<rect x="331.74" y="159.60" width="11.57" height="5.60" fill="#f8fc00"/>
<rect x="68.40" y="165.60" width="11.57" height="5.60" fill="#e4fa00"/>
<rect x="80.37" y="165.60" width="11.57" height="5.60" fill="#b9f50a"/>
<rect x="92.34" y="165.60" width="11.57" height="5.60" fill="#e4fa00"/>
<rect x="104.31" y="165.60" width="11.57" height="5.60" fill="#e4fa00"/>
<rect x="116.28" y="165.60" width="11.57" height="5.60" fill="#e4fa00"/>
<rect x="128.25" y="165.60" width="11.57" height="5.60" fill="#e4fa00"/>
<rect x="140.22" y="165.60" width="11.57" height="5.60" fill="#e4fa00"/>
<rect x="164.16" y="165.60" width="11.57" height="5.60" fill="#b9f50a"/>
<rect x="176.13" y="165.60" width="11.57" height="5.60" fill="#e4fa00"/>
<rect x="188.10" y="165.60" width="11.57" height="5.60" fill="#5af041"/>
<rect x="200.07" y="165.60" width="11.57" height="5.60" fill="#b9f50a"/>
<rect x="212.04" y="165.60" width="11.57" height="5.60" fill="#e4fa00"/>
<rect x="224.01" y="165.60" width="11.57" height="5.60" fill="#e4fa00"/>
<rect x="235.98" y="165.60" width="11.57" height="5.60" fill="#e4fa00"/>
<rect x="247.95" y="165.60" width="11.57" height="5.60" fill="#b9f50a"/>
<rect x="259.92" y="165.60" width="11.57" height="5.60" fill="#91f023"/>
<rect x="295.83" y="165.60" width="11.57" height="5.60" fill="#e4fa00"/>
<rect x="307.80" y="165.60" width="11.57" height="5.60" fill="#e4fa00"/>
<rect x="319.77" y="165.60" width="11.57" height="5.60" fill="#e4fa00"/>
<rect x="331.74" y="165.60" width="11.57" height="5.60" fill="#f8fc00"/>
<rect x="68.40" y="171.60" width="11.57" height="5.60" fill="#e4fa00"/>
<rect x="80.37" y="171.60" width="11.57" height="5.60" fill="#e4fa00"/>
<rect x="92.34" y="171.60" width="11.57" height="5.60" fill="#e4fa00"/>
<rect x="104.31" y="171.60" width="11.57" height="5.60" fill="#b9f50a"/>
<rect x="116.28" y="171.60" width="11.57" height="5.60" fill="#e4fa00"/>
<rect x="128.25" y="171.60" width="11.57" height="5.60" fill="#e4fa00"/>
<rect x="140.22" y="171.60" width="11.57" height="5.60" fill="#f8fc00"/>
<rect x="152.19" y="171.60" width="11.57" height="5.60" fill="#e4fa00"/>
<rect x="164.16" y="171.60" width="11.57" height="5.60" fill="#e4fa00"/>
<rect x="176.13" y="171.60" width="11.57" height="5.60" fill="#e4fa00"/>
<rect x="188.10" y="171.60" width="11.57" height="5.60" fill="#91f023"/>
<rect x="200.07" y="171.60" width="11.57" height="5.60" fill="#b9f50a"/>
<rect x="212.04" y="171.60" width="11.57" height="5.60" fill="#b9f50a"/>
<rect x="224.01" y="171.60" width="11.57" height="5.60" fill="#e4fa00"/>
<rect x="235.98" y="171.60" width="11.57" height="5.60" fill="#91f023"/>
<rect x="247.95" y="171.60" width="11.57" height="5.60" fill="#e4fa00"/>
<rect x="259.92" y="171.60" width="11.57" height="5.60" fill="#b9f50a"/>
<rect x="271.89" y="171.60" width="11.57" height="5.60" fill="#91f023"/>
<rect x="283.86" y="171.60" width="11.57" height="5.60" fill="#91f023"/>
<rect x="307.80" y="171.60" width="11.57" height="5.60" fill="#e4fa00"/>
<rect x="319.77" y="171.60" width="11.57" height="5.60" fill="#e4fa00"/>
<rect x="331.74" y="171.60" width="11.57" height="5.60" fill="#f8fc00"/>
<rect x="68.40" y="177.60" width="11.57" height="5.60" fill="#e4fa00"/>
<rect x="80.37" y="177.60" width="11.57" height="5.60" fill="#91f023"/>
<rect x="92.34" y="177.60" width="11.57" height="5.60" fill="#91f023"/>
<rect x="104.31" y="177.60" width="11.57" height="5.60" fill="#b9f50a"/>
<rect x="128.25" y="177.60" width="11.57" height="5.60" fill="#e4fa00"/>
<rect x="140.22" y="177.60" width="11.57" height="5.60" fill="#e4fa00"/>
<rect x="152.19" y="177.60" width="11.57" height="5.60" fill="#e4fa00"/>
<rect x="164.16" y="177.60" width="11.57" height="5.60" fill="#e4fa00"/>
<rect x="176.13" y="177.60" width="11.57" height="5.60" fill="#e4fa00"/>
<rect x="188.10" y="177.60" width="11.57" height="5.60" fill="#91f023"/>
<rect x="200.07" y="177.60" width="11.57" height="5.60" fill="#b9f50a"/>
<rect x="212.04" y="177.60" width="11.57" height="5.60" fill="#e4fa00"/>
<rect x="224.01" y="177.60" width="11.57" height="5.60" fill="#e4fa00"/>
<rect x="235.98" y="177.60" width="11.57" height="5.60" fill="#e4fa00"/>
<rect x="247.95" y="177.60" width="11.57" height="5.60" fill="#e4fa00"/>
<rect x="259.92" y="177.60" width="11.57" height="5.60" fill="#0ae873"/>
<rect x="271.89" y="177.60" width="11.57" height="5.60" fill="#b9f50a"/>
<rect x="283.86" y="177.60" width="11.57" height="5.60" fill="#f8fc00"/>
<rect x="295.83" y="177.60" width="11.57" height="5.60" fill="#e4fa00"/>
<rect x="307.80" y="177.60" width="11.57" height="5.60" fill="#e4fa00"/>
<rect x="319.77" y="177.60" width="11.57" height="5.60" fill="#b9f50a"/>
<rect x="68.40" y="183.60" width="11.57" height="5.60" fill="#b9f50a"/>
<rect x="80.37" y="183.60" width="11.57" height="5.60" fill="#e4fa00"/>
<rect x="92.34" y="183.60" width="11.57" height="5.60" fill="#b9f50a"/>
<rect x="104.31" y="183.60" width="11.57" height="5.60" fill="#e4fa00"/>
<rect x="116.28" y="183.60" width="11.57" height="5.60" fill="#f8fc00"/>
<rect x="128.25" y="183.60" width="11.57" height="5.60" fill="#e4fa00"/>
<rect x="140.22" y="183.60" width="11.57" height="5.60" fill="#e4fa00"/>
<rect x="152.19" y="183.60" width="11.57" height="5.60" fill="#f8fc00"/>
<rect x="164.16" y="183.60" width="11.57" height="5.60" fill="#e4fa00"/>
<rect x="176.13" y="183.60" width="11.57" height="5.60" fill="#e4fa00"/>
<rect x="188.10" y="183.60" width="11.57" height="5.60" fill="#b9f50a"/>
<rect x="200.07" y="183.60" width="11.57" height="5.60" fill="#e4fa00"/>
<rect x="212.04" y="183.60" width="11.57" height="5.60" fill="#e4fa00"/>
<rect x="224.01" y="183.60" width="11.57" height="5.60" fill="#f8fc00"/>
<rect x="235.98" y="183.60" width="11.57" height="5.60" fill="#f8fc00"/>
<rect x="247.95" y="183.60" width="11.57" height="5.60" fill="#e4fa00"/>
<rect x="271.89" y="183.60" width="11.57" height="5.60" fill="#e4fa00"/>
<rect x="295.83" y="183.60" width="11.57" height="5.60" fill="#f8fc00"/>
<rect x="307.80" y="183.60" width="11.57" height="5.60" fill="#f8fc00"/>
<rect x="319.77" y="183.60" width="11.57" height="5.60" fill="#e4fa00"/>
<rect x="331.74" y="183.60" width="11.57" height="5.60" fill="#f8fc00"/>
<rect x="68.40" y="189.60" width="11.57" height="5.60" fill="#e4fa00"/>
<rect x="80.37" y="189.60" width="11.57" height="5.60" fill="#f8fc00"/>
<rect x="92.34" y="189.60" width="11.57" height="5.60" fill="#e4fa00"/>
<rect x="104.31" y="189.60" width="11.57" height="5.60" fill="#e4fa00"/>
<rect x="116.28" y="189.60" width="11.57" height="5.60" fill="#f8fc00"/>
<rect x="128.25" y="189.60" width="11.57" height="5.60" fill="#e4fa00"/>
<rect x="140.22" y="189.60" width="11.57" height="5.60" fill="#e4fa00"/>
<rect x="152.19" y="189.60" width="11.57" height="5.60" fill="#e4fa00"/>
<rect x="164.16" y="189.60" width="11.57" height="5.60" fill="#f8fc00"/>
<rect x="224.01" y="189.60" width="11.57" height="5.60" fill="#f8fc00"/>
<rect x="283.86" y="189.60" width="11.57" height="5.60" fill="#e4fa00"/>
<rect x="295.83" y="189.60" width="11.57" height="5.60" fill="#f8fc00"/>
<rect x="307.80" y="189.60" width="11.57" height="5.60" fill="#e4fa00"/>
<rect x="319.77" y="189.60" width="11.57" height="5.60" fill="#f8fc00"/>
<rect x="68.40" y="195.60" width="11.57" height="5.60" fill="#e4fa00"/>
<rect x="80.37" y="195.60" width="11.57" height="5.60" fill="#f8fc00"/>
<rect x="92.34" y="195.60" width="11.57" height="5.60" fill="#e4fa00"/>
<rect x="104.31" y="195.60" width="11.57" height="5.60" fill="#e4fa00"/>
<rect x="116.28" y="195.60" width="11.57" height="5.60" fill="#e4fa00"/>
<rect x="128.25" y="195.60" width="11.57" height="5.60" fill="#e4fa00"/>
<rect x="140.22" y="195.60" width="11.57" height="5.60" fill="#e4fa00"/>
<rect x="152.19" y="195.60" width="11.57" height="5.60" fill="#f8fc00"/>
<rect x="164.16" y="195.60" width="11.57" height="5.60" fill="#e4fa00"/>
<rect x="176.13" y="195.60" width="11.57" height="5.60" fill="#e4fa00"/>
<rect x="188.10" y="195.60" width="11.57" height="5.60" fill="#e4fa00"/>
<rect x="200.07" y="195.60" width="11.57" height="5.60" fill="#e4fa00"/>
<rect x="212.04" y="195.60" width="11.57" height="5.60" fill="#e4fa00"/>
<rect x="224.01" y="195.60" width="11.57" height="5.60" fill="#f8fc00"/>
<rect x="235.98" y="195.60" width="11.57" height="5.60" fill="#b9f50a"/>
<rect x="247.95" y="195.60" width="11.57" height="5.60" fill="#b9f50a"/>
<rect x="259.92" y="195.60" width="11.57" height="5.60" fill="#b9f50a"/>
<rect x="283.86" y="195.60" width="11.57" height="5.60" fill="#f8fc00"/>
<rect x="295.83" y="195.60" width="11.57" height="5.60" fill="#b9f50a"/>
<rect x="307.80" y="195.60" width="11.57" height="5.60" fill="#e4fa00"/>
<rect x="319.77" y="195.60" width="11.57" height="5.60" fill="#e4fa00"/>
<rect x="331.74" y="195.60" width="11.57" height="5.60" fill="#f8fc00"/>
<rect x="68.40" y="201.60" width="11.57" height="5.60" fill="#e4fa00"/>
<rect x="80.37" y="201.60" width="11.57" height="5.60" fill="#f8fc00"/>
<rect x="92.34" y="201.60" width="11.57" height="5.60" fill="#e4fa00"/>
<rect x="104.31" y="201.60" width="11.57" height="5.60" fill="#e4fa00"/>
<rect x="116.28" y="201.60" width="11.57" height="5.60" fill="#e4fa00"/>
<rect x="127.75" y="201.70" width="12.57" height="5.40" fill="url(#hatch)"/>
<rect x="140.22" y="201.60" width="11.57" height="5.60" fill="#b9f50a"/>
<rect x="152.19" y="201.60" width="11.57" height="5.60" fill="#e4fa00"/>
<rect x="164.16" y="201.60" width="11.57" height="5.60" fill="#e4fa00"/>
<rect x="176.13" y="201.60" width="11.57" height="5.60" fill="#e4fa00"/>
<rect x="188.10" y="201.60" width="11.57" height="5.60" fill="#5af041"/>
<rect x="200.07" y="201.60" width="11.57" height="5.60" fill="#b9f50a"/>
<rect x="235.98" y="201.60" width="11.57" height="5.60" fill="#e4fa00"/>
<rect x="247.95" y="201.60" width="11.57" height="5.60" fill="#e4fa00"/>
<rect x="271.39" y="201.70" width="12.57" height="5.40" fill="url(#hatch)"/>
<rect x="283.86" y="201.60" width="11.57" height="5.60" fill="#f8fc00"/>
<rect x="295.83" y="201.60" width="11.57" height="5.60" fill="#e4fa00"/>
<rect x="307.80" y="201.60" width="11.57" height="5.60" fill="#e4fa00"/>
<rect x="319.77" y="201.60" width="11.57" height="5.60" fill="#e4fa00"/>
<rect x="331.74" y="201.60" width="11.57" height="5.60" fill="#f8fc00"/>
<rect x="68.40" y="207.60" width="11.57" height="5.60" fill="#b9f50a"/>
<rect x="80.37" y="207.60" width="11.57" height="5.60" fill="#e4fa00"/>
<rect x="92.34" y="207.60" width="11.57" height="5.60" fill="#e4fa00"/>
<rect x="104.31" y="207.60" width="11.57" height="5.60" fill="#e4fa00"/>
<rect x="128.25" y="207.60" width="11.57" height="5.60" fill="#5af041"/>
<rect x="140.22" y="207.60" width="11.57" height="5.60" fill="#b9f50a"/>
<rect x="152.19" y="207.60" width="11.57" height="5.60" fill="#e4fa00"/>
<rect x="164.16" y="207.60" width="11.57" height="5.60" fill="#e4fa00"/>
<rect x="176.13" y="207.60" width="11.57" height="5.60" fill="#e4fa00"/>
<rect x="188.10" y="207.60" width="11.57" height="5.60" fill="#91f023"/>
<rect x="200.07" y="207.60" width="11.57" height="5.60" fill="#0ae873"/>
<rect x="212.04" y="207.60" width="11.57" height="5.60" fill="#5af041"/>
<rect x="235.98" y="207.60" width="11.57" height="5.60" fill="#e4fa00"/>
<rect x="247.95" y="207.60" width="11.57" height="5.60" fill="#b9f50a"/>
<rect x="259.92" y="207.60" width="11.57" height="5.60" fill="#00e6f5"/>
<rect x="271.89" y="207.60" width="11.57" height="5.60" fill="#5af041"/>
<rect x="283.86" y="207.60" width="11.57" height="5.60" fill="#e4fa00"/>
<rect x="295.83" y="207.60" width="11.57" height="5.60" fill="#f8fc00"/>
<rect x="319.77" y="207.60" width="11.57" height="5.60" fill="#91f023"/>
<rect x="331.74" y="207.60" width="11.57" height="5.60" fill="#f8fc00"/>
<rect x="68.40" y="213.60" width="11.57" height="5.60" fill="#e4fa00"/>
<rect x="80.37" y="213.60" width="11.57" height="5.60" fill="#e4fa00"/>
<rect x="92.34" y="213.60" width="11.57" height="5.60" fill="#e4fa00"/>
<rect x="104.31" y="213.60" width="11.57" height="5.60" fill="#e4fa00"/>
<rect x="116.28" y="213.60" width="11.57" height="5.60" fill="#e4fa00"/>
<rect x="128.25" y="213.60" width="11.57" height="5.60" fill="#e4fa00"/>
<rect x="140.22" y="213.60" width="11.57" height="5.60" fill="#f8fc00"/>
<rect x="152.19" y="213.60" width="11.57" height="5.60" fill="#e4fa00"/>
<rect x="164.16" y="213.60" width="11.57" height="5.60" fill="#e4fa00"/>
<rect x="176.13" y="213.60" width="11.57" height="5.60" fill="#e4fa00"/>
<rect x="188.10" y="213.60" width="11.57" height="5.60" fill="#e4fa00"/>
<rect x="200.07" y="213.60" width="11.57" height="5.60" fill="#b9f50a"/>
<rect x="224.01" y="213.60" width="11.57" height="5.60" fill="#f8fc00"/>
<rect x="235.98" y="213.60" width="11.57" height="5.60" fill="#e4fa00"/>
<rect x="247.95" y="213.60" width="11.57" height="5.60" fill="#e4fa00"/>
<rect x="259.92" y="213.60" width="11.57" height="5.60" fill="#e4fa00"/>
<rect x="271.89" y="213.60" width="11.57" height="5.60" fill="#b9f50a"/>
<rect x="295.83" y="213.60" width="11.57" height="5.60" fill="#91f023"/>
<rect x="307.80" y="213.60" width="11.57" height="5.60" fill="#b9f50a"/>
<rect x="319.77" y="213.60" width="11.57" height="5.60" fill="#e4fa00"/>
<rect x="331.74" y="213.60" width="11.57" height="5.60" fill="#f8fc00"/>
<rect x="68.20" y="21.40" width="275.31" height="198.00" fill="none" stroke="#222" stroke-width="1"/>
<path d="M66.40 24.40H68.20M66.40 30.40H68.20M66.40 36.40H68.20M66.40 42.40H68.20M66.40 48.40H68.20M66.40 54.40H68.20M66.40 60.40H68.20M66.40 66.40H68.20M66.40 72.40H68.20M66.40 78.40H68.20M66.40 84.40H68.20M66.40 90.40H68.20M66.40 96.40H68.20M66.40 102.40H68.20M66.40 108.40H68.20M66.40 114.40H68.20M66.40 120.40H68.20M66.40 126.40H68.20M66.40 132.40H68.20M66.40 138.40H68.20M66.40 144.40H68.20M66.40 150.40H68.20M66.40 156.40H68.20M66.40 162.40H68.20M66.40 168.40H68.20M66.40 174.40H68.20M66.40 180.40H68.20M66.40 186.40H68.20M66.40 192.40H68.20M66.40 198.40H68.20M66.40 204.40H68.20M66.40 210.40H68.20M66.40 216.40H68.20M68.20 219.40V222.40M80.17 219.40V222.40M92.14 219.40V222.40M104.11 219.40V222.40M116.08 219.40V222.40M128.05 219.40V222.40M140.02 219.40V222.40M151.99 219.40V222.40M163.96 219.40V222.40M175.93 219.40V222.40M187.90 219.40V222.40M199.87 219.40V222.40M211.84 219.40V222.40M223.81 219.40V222.40M235.78 219.40V222.40M247.75 219.40V222.40M259.72 219.40V222.40M271.69 219.40V222.40M283.66 219.40V222.40M295.63 219.40V222.40M307.60 219.40V222.40M319.57 219.40V222.40M331.54 219.40V222.40M343.51 219.40V222.40" stroke="#222" stroke-width="1" fill="none"/>
<text transform="translate(63.5,26.95) scale(0.9,1)" font-size="7.2" text-anchor="end">1</text>
<text transform="translate(63.5,32.95) scale(0.9,1)" font-size="7.2" text-anchor="end">2</text>
<text transform="translate(63.5,38.95) scale(0.9,1)" font-size="7.2" text-anchor="end">3</text>
<text transform="translate(63.5,44.95) scale(0.9,1)" font-size="7.2" text-anchor="end">4</text>
<text transform="translate(63.5,50.95) scale(0.9,1)" font-size="7.2" text-anchor="end">5</text>
<text transform="translate(63.5,56.95) scale(0.9,1)" font-size="7.2" text-anchor="end">6</text>
<text transform="translate(63.5,62.95) scale(0.9,1)" font-size="7.2" text-anchor="end">7</text>
<text transform="translate(63.5,68.95) scale(0.9,1)" font-size="7.2" text-anchor="end">8</text>
<text transform="translate(63.5,74.95) scale(0.9,1)" font-size="7.2" text-anchor="end">9</text>
<text transform="translate(63.5,80.95) scale(0.9,1)" font-size="7.2" text-anchor="end">10</text>
<text transform="translate(63.5,86.95) scale(0.9,1)" font-size="7.2" text-anchor="end">11</text>
<text transform="translate(63.5,92.95) scale(0.9,1)" font-size="7.2" text-anchor="end">12</text>
<text transform="translate(63.5,98.95) scale(0.9,1)" font-size="7.2" text-anchor="end">13</text>
<text transform="translate(63.5,104.95) scale(0.9,1)" font-size="7.2" text-anchor="end">14</text>
<text transform="translate(63.5,110.95) scale(0.9,1)" font-size="7.2" text-anchor="end">15</text>
<text transform="translate(63.5,116.95) scale(0.9,1)" font-size="7.2" text-anchor="end">16</text>
<text transform="translate(63.5,122.95) scale(0.9,1)" font-size="7.2" text-anchor="end">17</text>
<text transform="translate(63.5,128.95) scale(0.9,1)" font-size="7.2" text-anchor="end">18</text>
<text transform="translate(63.5,134.95) scale(0.9,1)" font-size="7.2" text-anchor="end">19</text>
<text transform="translate(63.5,140.95) scale(0.9,1)" font-size="7.2" text-anchor="end">20</text>
<text transform="translate(63.5,146.95) scale(0.9,1)" font-size="7.2" text-anchor="end">21</text>
<text transform="translate(63.5,152.95) scale(0.9,1)" font-size="7.2" text-anchor="end">22</text>
<text transform="translate(63.5,158.95) scale(0.9,1)" font-size="7.2" text-anchor="end">23</text>
<text transform="translate(63.5,164.95) scale(0.9,1)" font-size="7.2" text-anchor="end">24</text>
<text transform="translate(63.5,170.95) scale(0.9,1)" font-size="7.2" text-anchor="end">25</text>
<text transform="translate(63.5,176.95) scale(0.9,1)" font-size="7.2" text-anchor="end">26</text>
<text transform="translate(63.5,182.95) scale(0.9,1)" font-size="7.2" text-anchor="end">27</text>
<text transform="translate(63.5,188.95) scale(0.9,1)" font-size="7.2" text-anchor="end">28</text>
<text transform="translate(63.5,194.95) scale(0.9,1)" font-size="7.2" text-anchor="end">29</text>
<text transform="translate(63.5,200.95) scale(0.9,1)" font-size="7.2" text-anchor="end">30</text>
<text transform="translate(63.5,206.95) scale(0.9,1)" font-size="7.2" text-anchor="end">31</text>
<text transform="translate(63.5,212.95) scale(0.9,1)" font-size="7.2" text-anchor="end">32</text>
<text transform="translate(63.5,218.95) scale(0.9,1)" font-size="7.2" text-anchor="end">33</text>
<text x="53.4" y="26.80" font-size="7.1" text-anchor="end">(06.12.21)</text>
<text x="53.4" y="50.80" font-size="7.1" text-anchor="end">(03.01.22)</text>
<text x="53.4" y="74.80" font-size="7.1" text-anchor="end">(31.01.22)</text>
<text x="53.4" y="98.80" font-size="7.1" text-anchor="end">(28.02.22)</text>
<text x="53.4" y="122.80" font-size="7.1" text-anchor="end">(28.03.22)</text>
<text x="53.4" y="146.80" font-size="7.1" text-anchor="end">(25.04.22)</text>
<text x="53.4" y="170.80" font-size="7.1" text-anchor="end">(23.05.22)</text>
<text x="53.4" y="194.80" font-size="7.1" text-anchor="end">(20.06.22)</text>
<text x="53.4" y="218.80" font-size="7.1" text-anchor="end">(18.07.22)</text>
<text transform="translate(12.3,109.5) rotate(-90)" font-size="8.5" font-weight="bold" text-anchor="middle">study week</text>
<text transform="translate(71.80,227.4) rotate(-90) scale(0.9,1)" font-size="7.8" text-anchor="end">1</text>
<text transform="translate(83.77,227.4) rotate(-90) scale(0.9,1)" font-size="7.8" text-anchor="end">2</text>
<text transform="translate(95.74,227.4) rotate(-90) scale(0.9,1)" font-size="7.8" text-anchor="end">3</text>
<text transform="translate(107.71,227.4) rotate(-90) scale(0.9,1)" font-size="7.8" text-anchor="end">4</text>
<text transform="translate(119.68,227.4) rotate(-90) scale(0.9,1)" font-size="7.8" text-anchor="end">5</text>
<text transform="translate(131.65,227.4) rotate(-90) scale(0.9,1)" font-size="7.8" text-anchor="end">6</text>
<text transform="translate(143.62,227.4) rotate(-90) scale(0.9,1)" font-size="7.8" text-anchor="end">7</text>
<text transform="translate(155.59,227.4) rotate(-90) scale(0.9,1)" font-size="7.8" text-anchor="end">8</text>
<text transform="translate(167.56,227.4) rotate(-90) scale(0.9,1)" font-size="7.8" text-anchor="end">9</text>
<text transform="translate(179.53,227.4) rotate(-90) scale(0.9,1)" font-size="7.8" text-anchor="end">10</text>
<text transform="translate(191.50,227.4) rotate(-90) scale(0.9,1)" font-size="7.8" text-anchor="end">11</text>
<text transform="translate(203.47,227.4) rotate(-90) scale(0.9,1)" font-size="7.8" text-anchor="end">12</text>
<text transform="translate(215.44,227.4) rotate(-90) scale(0.9,1)" font-size="7.8" text-anchor="end">13</text>
<text transform="translate(227.41,227.4) rotate(-90) scale(0.9,1)" font-size="7.8" text-anchor="end">14</text>
<text transform="translate(239.38,227.4) rotate(-90) scale(0.9,1)" font-size="7.8" text-anchor="end">15</text>
<text transform="translate(251.35,227.4) rotate(-90) scale(0.9,1)" font-size="7.8" text-anchor="end">16</text>
<text transform="translate(263.32,227.4) rotate(-90) scale(0.9,1)" font-size="7.8" text-anchor="end">17</text>
<text transform="translate(275.29,227.4) rotate(-90) scale(0.9,1)" font-size="7.8" text-anchor="end">18</text>
<text transform="translate(287.26,227.4) rotate(-90) scale(0.9,1)" font-size="7.8" text-anchor="end">19</text>
<text transform="translate(299.23,227.4) rotate(-90) scale(0.9,1)" font-size="7.8" text-anchor="end">20</text>
<text transform="translate(311.20,227.4) rotate(-90) scale(0.9,1)" font-size="7.8" text-anchor="end">21</text>
<text transform="translate(323.17,227.4) rotate(-90) scale(0.9,1)" font-size="7.8" text-anchor="end">22</text>
<text transform="translate(335.14,227.4) rotate(-90) scale(0.9,1)" font-size="7.8" text-anchor="end">23</text>
<text x="205.8" y="252.7" font-size="9.7" text-anchor="middle">ID WWTP</text>
<rect x="68.20" y="276.40" width="275.60" height="13.60" fill="url(#cb)" stroke="#333" stroke-width="0.9"/>
<text x="68.50" y="303.3" font-size="8" font-weight="bold" text-anchor="middle">0</text>
<text x="133.90" y="303.3" font-size="8" font-weight="bold" text-anchor="middle">50</text>
<text x="199.30" y="303.3" font-size="8" font-weight="bold" text-anchor="middle">100</text>
<text x="264.70" y="303.3" font-size="8" font-weight="bold" text-anchor="middle">150</text>
<text x="330.10" y="303.3" font-size="8" font-weight="bold" text-anchor="middle">200</text>
<path d="M68.00 290.00V292.50M133.40 290.00V292.50M198.80 290.00V292.50M264.20 290.00V292.50M329.60 290.00V292.50" stroke="#333" stroke-width="0.9"/>
<text y="322" font-size="8.7" font-weight="bold"><tspan x="132.7">(virus genome copies /E</tspan><tspan x="233.1" y="324.7" font-size="6">NH4</tspan><tspan x="247.8" y="322">/d) *10</tspan><tspan x="273.4" y="318.7" font-size="5.6">6</tspan></text>
<rect x="362.90" y="22.30" width="38.40" height="199.60" fill="#fff"/>
<path d="M362.90 25.50H401.30M362.90 31.54H401.30M362.90 37.59H401.30M362.90 43.63H401.30M362.90 49.68H401.30M362.90 55.72H401.30M362.90 61.76H401.30M362.90 67.81H401.30M362.90 73.85H401.30M362.90 79.90H401.30M362.90 85.94H401.30M362.90 91.98H401.30M362.90 98.03H401.30M362.90 104.07H401.30M362.90 110.12H401.30M362.90 116.16H401.30M362.90 122.20H401.30M362.90 128.25H401.30M362.90 134.29H401.30M362.90 140.34H401.30M362.90 146.38H401.30M362.90 152.42H401.30M362.90 158.47H401.30M362.90 164.51H401.30M362.90 170.56H401.30M362.90 176.60H401.30M362.90 182.64H401.30M362.90 188.69H401.30M362.90 194.73H401.30M362.90 200.78H401.30M362.90 206.82H401.30M362.90 212.86H401.30M362.90 218.91H401.30" stroke="#d4d4d4" stroke-width="0.8"/>
<rect x="362.90" y="22.30" width="38.40" height="199.60" fill="none" stroke="#666" stroke-width="0.9"/>
<text transform="translate(361.10,17.40) rotate(90)" font-size="5.2" text-anchor="end" fill="#333">0.0</text>
<text transform="translate(380.30,17.40) rotate(90)" font-size="5.2" text-anchor="end" fill="#333">0.5</text>
<text transform="translate(399.50,17.40) rotate(90)" font-size="5.2" text-anchor="end" fill="#333">1.0</text>
<path d="M362.90 22.30V20.30M382.10 22.30V20.30M401.30 22.30V20.30" stroke="#666" stroke-width="0.8"/>
<polyline points="381.26,25.50 379.26,31.54 379.80,37.59 378.64,43.63 373.27,49.68 371.08,55.72 373.65,61.76 376.88,67.81 381.26,73.85 383.25,79.90 386.82,85.94 387.25,91.98 385.56,98.03 389.40,104.07 389.78,110.12 389.78,116.16 389.01,122.20 386.32,128.25 389.40,134.29 388.24,140.34 384.79,146.38 381.64,152.42 379.41,158.47 377.11,164.51 375.57,170.56 374.42,176.60 380.18,182.64 384.02,188.69 385.94,194.73 387.86,200.78 386.32,206.82 386.71,212.86 387.48,218.91" fill="none" stroke="#7ad49a" stroke-width="1"/>
<circle cx="381.26" cy="25.50" r="2.0" fill="#069406"/>
<circle cx="379.26" cy="31.54" r="2.0" fill="#069406"/>
<circle cx="379.80" cy="37.59" r="2.0" fill="#069406"/>
<circle cx="378.64" cy="43.63" r="2.0" fill="#069406"/>
<circle cx="373.27" cy="49.68" r="2.0" fill="#069406"/>
<circle cx="371.08" cy="55.72" r="2.0" fill="#069406"/>
<circle cx="373.65" cy="61.76" r="2.0" fill="#069406"/>
<circle cx="376.88" cy="67.81" r="2.0" fill="#069406"/>
<circle cx="381.26" cy="73.85" r="2.0" fill="#069406"/>
<circle cx="383.25" cy="79.90" r="2.0" fill="#069406"/>
<circle cx="386.82" cy="85.94" r="2.0" fill="#069406"/>
<circle cx="387.25" cy="91.98" r="2.0" fill="#069406"/>
<circle cx="385.56" cy="98.03" r="2.0" fill="#069406"/>
<circle cx="389.40" cy="104.07" r="2.0" fill="#069406"/>
<circle cx="389.78" cy="110.12" r="2.0" fill="#069406"/>
<circle cx="389.78" cy="116.16" r="2.0" fill="#069406"/>
<circle cx="389.01" cy="122.20" r="2.0" fill="#069406"/>
<circle cx="386.32" cy="128.25" r="2.0" fill="#069406"/>
<circle cx="389.40" cy="134.29" r="2.0" fill="#069406"/>
<circle cx="388.24" cy="140.34" r="2.0" fill="#069406"/>
<circle cx="384.79" cy="146.38" r="2.0" fill="#069406"/>
<circle cx="381.64" cy="152.42" r="2.0" fill="#069406"/>
<circle cx="379.41" cy="158.47" r="2.0" fill="#069406"/>
<circle cx="377.11" cy="164.51" r="2.0" fill="#069406"/>
<circle cx="375.57" cy="170.56" r="2.0" fill="#069406"/>
<circle cx="374.42" cy="176.60" r="2.0" fill="#069406"/>
<circle cx="380.18" cy="182.64" r="2.0" fill="#069406"/>
<circle cx="384.02" cy="188.69" r="2.0" fill="#069406"/>
<circle cx="385.94" cy="194.73" r="2.0" fill="#069406"/>
<circle cx="387.86" cy="200.78" r="2.0" fill="#069406"/>
<circle cx="386.32" cy="206.82" r="2.0" fill="#069406"/>
<circle cx="386.71" cy="212.86" r="2.0" fill="#069406"/>
<circle cx="387.48" cy="218.91" r="2.0" fill="#069406"/>
<text x="404.30" y="27.70" font-size="6.1" style="stroke-width:0.05px">1</text>
<text x="404.30" y="33.74" font-size="6.1" style="stroke-width:0.05px">2</text>
<text x="404.30" y="39.79" font-size="6.1" style="stroke-width:0.05px">3</text>
<text x="404.30" y="45.83" font-size="6.1" style="stroke-width:0.05px">4</text>
<text x="404.30" y="51.88" font-size="6.1" style="stroke-width:0.05px">5</text>
<text x="404.30" y="57.92" font-size="6.1" style="stroke-width:0.05px">6</text>
<text x="404.30" y="63.96" font-size="6.1" style="stroke-width:0.05px">7</text>
<text x="404.30" y="70.01" font-size="6.1" style="stroke-width:0.05px">8</text>
<text x="404.30" y="76.05" font-size="6.1" style="stroke-width:0.05px">9</text>
<text x="404.30" y="82.10" font-size="6.1" style="stroke-width:0.05px">10</text>
<text x="404.30" y="88.14" font-size="6.1" style="stroke-width:0.05px">11</text>
<text x="404.30" y="94.18" font-size="6.1" style="stroke-width:0.05px">12</text>
<text x="404.30" y="100.23" font-size="6.1" style="stroke-width:0.05px">13</text>
<text x="404.30" y="106.27" font-size="6.1" style="stroke-width:0.05px">14</text>
<text x="404.30" y="112.32" font-size="6.1" style="stroke-width:0.05px">15</text>
<text x="404.30" y="118.36" font-size="6.1" style="stroke-width:0.05px">16</text>
<text x="404.30" y="124.40" font-size="6.1" style="stroke-width:0.05px">17</text>
<text x="404.30" y="130.45" font-size="6.1" style="stroke-width:0.05px">18</text>
<text x="404.30" y="136.49" font-size="6.1" style="stroke-width:0.05px">19</text>
<text x="404.30" y="142.54" font-size="6.1" style="stroke-width:0.05px">20</text>
<text x="404.30" y="148.58" font-size="6.1" style="stroke-width:0.05px">21</text>
<text x="404.30" y="154.62" font-size="6.1" style="stroke-width:0.05px">22</text>
<text x="404.30" y="160.67" font-size="6.1" style="stroke-width:0.05px">23</text>
<text x="404.30" y="166.71" font-size="6.1" style="stroke-width:0.05px">24</text>
<text x="404.30" y="172.76" font-size="6.1" style="stroke-width:0.05px">25</text>
<text x="404.30" y="178.80" font-size="6.1" style="stroke-width:0.05px">26</text>
<text x="404.30" y="184.84" font-size="6.1" style="stroke-width:0.05px">27</text>
<text x="404.30" y="190.89" font-size="6.1" style="stroke-width:0.05px">28</text>
<text x="404.30" y="196.93" font-size="6.1" style="stroke-width:0.05px">29</text>
<text x="404.30" y="202.98" font-size="6.1" style="stroke-width:0.05px">30</text>
<text x="404.30" y="209.02" font-size="6.1" style="stroke-width:0.05px">31</text>
<text x="404.30" y="215.06" font-size="6.1" style="stroke-width:0.05px">32</text>
<text x="404.30" y="221.11" font-size="6.1" style="stroke-width:0.05px">33</text>
<path d="M353.70 126.70V141.20" stroke="#7ad49a" stroke-width="1"/>
<circle cx="353.70" cy="134.00" r="2.0" fill="#069406"/>
<text transform="translate(352.00,146.00) rotate(90)" font-size="6.2" style="stroke-width:0.05px">Positive test rate</text>
<rect x="429.40" y="21.80" width="37.10" height="199.40" fill="#fff"/>
<path d="M429.40 24.80H466.50M429.40 30.85H466.50M429.40 36.91H466.50M429.40 42.96H466.50M429.40 49.01H466.50M429.40 55.06H466.50M429.40 61.12H466.50M429.40 67.17H466.50M429.40 73.22H466.50M429.40 79.28H466.50M429.40 85.33H466.50M429.40 91.38H466.50M429.40 97.44H466.50M429.40 103.49H466.50M429.40 109.54H466.50M429.40 115.59H466.50M429.40 121.65H466.50M429.40 127.70H466.50M429.40 133.75H466.50M429.40 139.81H466.50M429.40 145.86H466.50M429.40 151.91H466.50M429.40 157.97H466.50M429.40 164.02H466.50M429.40 170.07H466.50M429.40 176.12H466.50M429.40 182.18H466.50M429.40 188.23H466.50M429.40 194.28H466.50M429.40 200.34H466.50M429.40 206.39H466.50M429.40 212.44H466.50M429.40 218.50H466.50" stroke="#d4d4d4" stroke-width="0.8"/>
<rect x="429.40" y="21.80" width="37.10" height="199.40" fill="none" stroke="#666" stroke-width="0.9"/>
<text transform="translate(427.60,16.70) rotate(90)" font-size="5.2" text-anchor="end" fill="#333">0</text>
<text transform="translate(436.87,16.70) rotate(90)" font-size="5.2" text-anchor="end" fill="#333">1000</text>
<text transform="translate(446.15,16.70) rotate(90)" font-size="5.2" text-anchor="end" fill="#333">2000</text>
<text transform="translate(455.43,16.70) rotate(90)" font-size="5.2" text-anchor="end" fill="#333">3000</text>
<text transform="translate(464.70,16.70) rotate(90)" font-size="5.2" text-anchor="end" fill="#333">4000</text>
<path d="M429.40 21.80V19.80M438.67 21.80V19.80M447.95 21.80V19.80M457.23 21.80V19.80M466.50 21.80V19.80" stroke="#666" stroke-width="0.8"/>
<polyline points="439.15,24.80 439.15,30.85 436.96,36.91 434.37,42.96 433.08,49.01 432.68,55.06 431.09,61.12 431.99,67.17 433.68,73.22 436.26,79.28 439.15,85.33 440.84,91.38 442.33,97.44 444.52,103.49 448.40,109.54 450.48,115.59 449.89,121.65 447.30,127.70 443.02,133.75 438.05,139.81 434.77,145.86 433.18,151.91 430.89,157.97 430.39,164.02 430.20,170.07 430.20,176.12 430.20,182.18 430.39,188.23 430.89,194.28 431.59,200.34 431.99,206.39 432.48,212.44 432.68,218.50" fill="none" stroke="#555" stroke-width="1"/>
<circle cx="439.15" cy="24.80" r="2.0" fill="#0a0a0a"/>
<circle cx="439.15" cy="30.85" r="2.0" fill="#0a0a0a"/>
<circle cx="436.96" cy="36.91" r="2.0" fill="#0a0a0a"/>
<circle cx="434.37" cy="42.96" r="2.0" fill="#0a0a0a"/>
<circle cx="433.08" cy="49.01" r="2.0" fill="#0a0a0a"/>
<circle cx="432.68" cy="55.06" r="2.0" fill="#0a0a0a"/>
<circle cx="431.09" cy="61.12" r="2.0" fill="#0a0a0a"/>
<circle cx="431.99" cy="67.17" r="2.0" fill="#0a0a0a"/>
<circle cx="433.68" cy="73.22" r="2.0" fill="#0a0a0a"/>
<circle cx="436.26" cy="79.28" r="2.0" fill="#0a0a0a"/>
<circle cx="439.15" cy="85.33" r="2.0" fill="#0a0a0a"/>
<circle cx="440.84" cy="91.38" r="2.0" fill="#0a0a0a"/>
<circle cx="442.33" cy="97.44" r="2.0" fill="#0a0a0a"/>
<circle cx="444.52" cy="103.49" r="2.0" fill="#0a0a0a"/>
<circle cx="448.40" cy="109.54" r="2.0" fill="#0a0a0a"/>
<circle cx="450.48" cy="115.59" r="2.0" fill="#0a0a0a"/>
<circle cx="449.89" cy="121.65" r="2.0" fill="#0a0a0a"/>
<circle cx="447.30" cy="127.70" r="2.0" fill="#0a0a0a"/>
<circle cx="443.02" cy="133.75" r="2.0" fill="#0a0a0a"/>
<circle cx="438.05" cy="139.81" r="2.0" fill="#0a0a0a"/>
<circle cx="434.77" cy="145.86" r="2.0" fill="#0a0a0a"/>
<circle cx="433.18" cy="151.91" r="2.0" fill="#0a0a0a"/>
<circle cx="430.89" cy="157.97" r="2.0" fill="#0a0a0a"/>
<circle cx="430.39" cy="164.02" r="2.0" fill="#0a0a0a"/>
<circle cx="430.20" cy="170.07" r="2.0" fill="#0a0a0a"/>
<circle cx="430.20" cy="176.12" r="2.0" fill="#0a0a0a"/>
<circle cx="430.20" cy="182.18" r="2.0" fill="#0a0a0a"/>
<circle cx="430.39" cy="188.23" r="2.0" fill="#0a0a0a"/>
<circle cx="430.89" cy="194.28" r="2.0" fill="#0a0a0a"/>
<circle cx="431.59" cy="200.34" r="2.0" fill="#0a0a0a"/>
<circle cx="431.99" cy="206.39" r="2.0" fill="#0a0a0a"/>
<circle cx="432.48" cy="212.44" r="2.0" fill="#0a0a0a"/>
<circle cx="432.68" cy="218.50" r="2.0" fill="#0a0a0a"/>
<text x="469.80" y="27.00" font-size="6.1" style="stroke-width:0.05px">1</text>
<text x="469.80" y="33.05" font-size="6.1" style="stroke-width:0.05px">2</text>
<text x="469.80" y="39.11" font-size="6.1" style="stroke-width:0.05px">3</text>
<text x="469.80" y="45.16" font-size="6.1" style="stroke-width:0.05px">4</text>
<text x="469.80" y="51.21" font-size="6.1" style="stroke-width:0.05px">5</text>
<text x="469.80" y="57.27" font-size="6.1" style="stroke-width:0.05px">6</text>
<text x="469.80" y="63.32" font-size="6.1" style="stroke-width:0.05px">7</text>
<text x="469.80" y="69.37" font-size="6.1" style="stroke-width:0.05px">8</text>
<text x="469.80" y="75.42" font-size="6.1" style="stroke-width:0.05px">9</text>
<text x="469.80" y="81.48" font-size="6.1" style="stroke-width:0.05px">10</text>
<text x="469.80" y="87.53" font-size="6.1" style="stroke-width:0.05px">11</text>
<text x="469.80" y="93.58" font-size="6.1" style="stroke-width:0.05px">12</text>
<text x="469.80" y="99.64" font-size="6.1" style="stroke-width:0.05px">13</text>
<text x="469.80" y="105.69" font-size="6.1" style="stroke-width:0.05px">14</text>
<text x="469.80" y="111.74" font-size="6.1" style="stroke-width:0.05px">15</text>
<text x="469.80" y="117.80" font-size="6.1" style="stroke-width:0.05px">16</text>
<text x="469.80" y="123.85" font-size="6.1" style="stroke-width:0.05px">17</text>
<text x="469.80" y="129.90" font-size="6.1" style="stroke-width:0.05px">18</text>
<text x="469.80" y="135.95" font-size="6.1" style="stroke-width:0.05px">19</text>
<text x="469.80" y="142.01" font-size="6.1" style="stroke-width:0.05px">20</text>
<text x="469.80" y="148.06" font-size="6.1" style="stroke-width:0.05px">21</text>
<text x="469.80" y="154.11" font-size="6.1" style="stroke-width:0.05px">22</text>
<text x="469.80" y="160.17" font-size="6.1" style="stroke-width:0.05px">23</text>
<text x="469.80" y="166.22" font-size="6.1" style="stroke-width:0.05px">24</text>
<text x="469.80" y="172.27" font-size="6.1" style="stroke-width:0.05px">25</text>
<text x="469.80" y="178.32" font-size="6.1" style="stroke-width:0.05px">26</text>
<text x="469.80" y="184.38" font-size="6.1" style="stroke-width:0.05px">27</text>
<text x="469.80" y="190.43" font-size="6.1" style="stroke-width:0.05px">28</text>
<text x="469.80" y="196.48" font-size="6.1" style="stroke-width:0.05px">29</text>
<text x="469.80" y="202.54" font-size="6.1" style="stroke-width:0.05px">30</text>
<text x="469.80" y="208.59" font-size="6.1" style="stroke-width:0.05px">31</text>
<text x="469.80" y="214.64" font-size="6.1" style="stroke-width:0.05px">32</text>
<text x="469.80" y="220.70" font-size="6.1" style="stroke-width:0.05px">33</text>
<path d="M422.40 130.70V144.70" stroke="#555" stroke-width="1"/>
<circle cx="422.40" cy="137.50" r="2.0" fill="#0a0a0a"/>
<text transform="translate(420.70,148.30) rotate(90)" font-size="6.2" style="stroke-width:0.05px">7-day incidence per 100,000 inhabitants</text>
<rect x="488.60" y="22.50" width="38.60" height="199.90" fill="#fff"/>
<path d="M488.60 25.90H527.20M488.60 31.94H527.20M488.60 37.99H527.20M488.60 44.03H527.20M488.60 50.08H527.20M488.60 56.12H527.20M488.60 62.16H527.20M488.60 68.21H527.20M488.60 74.25H527.20M488.60 80.30H527.20M488.60 86.34H527.20M488.60 92.38H527.20M488.60 98.43H527.20M488.60 104.47H527.20M488.60 110.52H527.20M488.60 116.56H527.20M488.60 122.60H527.20M488.60 128.65H527.20M488.60 134.69H527.20M488.60 140.74H527.20M488.60 146.78H527.20M488.60 152.82H527.20M488.60 158.87H527.20M488.60 164.91H527.20M488.60 170.96H527.20M488.60 177.00H527.20M488.60 183.04H527.20M488.60 189.09H527.20M488.60 195.13H527.20M488.60 201.18H527.20M488.60 207.22H527.20M488.60 213.26H527.20M488.60 219.31H527.20" stroke="#d4d4d4" stroke-width="0.8"/>
<rect x="488.60" y="22.50" width="38.60" height="199.90" fill="none" stroke="#666" stroke-width="0.9"/>
<text transform="translate(486.80,17.30) rotate(90)" font-size="5.2" text-anchor="end" fill="#333">0</text>
<text transform="translate(494.52,17.30) rotate(90)" font-size="5.2" text-anchor="end" fill="#333">10</text>
<text transform="translate(502.24,17.30) rotate(90)" font-size="5.2" text-anchor="end" fill="#333">20</text>
<text transform="translate(509.96,17.30) rotate(90)" font-size="5.2" text-anchor="end" fill="#333">30</text>
<text transform="translate(517.68,17.30) rotate(90)" font-size="5.2" text-anchor="end" fill="#333">40</text>
<text transform="translate(525.40,17.30) rotate(90)" font-size="5.2" text-anchor="end" fill="#333">50</text>
<path d="M488.60 22.50V20.50M496.32 22.50V20.50M504.04 22.50V20.50M511.76 22.50V20.50M519.48 22.50V20.50M527.20 22.50V20.50" stroke="#666" stroke-width="0.8"/>
<polyline points="517.24,25.90 515.70,31.94 513.07,37.99 504.19,44.03 503.19,50.08 498.10,56.12 492.54,62.16 493.62,68.21 494.08,74.25 496.55,80.30 498.71,86.34 499.79,92.38 503.58,98.43 504.19,104.47 508.67,110.52 510.60,116.56 508.44,122.60 509.52,128.65 503.96,134.69 501.80,140.74 499.18,146.78 495.32,152.82 496.55,158.87 494.93,164.91 492.54,170.96 490.22,177.00 491.46,183.04 492.38,189.09 493.46,195.13 494.70,201.18 496.01,207.22 496.55,213.26 498.87,219.31" fill="none" stroke="#a8a8a8" stroke-width="1"/>
<circle cx="517.24" cy="25.90" r="2.0" fill="#7c7c7c"/>
<circle cx="515.70" cy="31.94" r="2.0" fill="#7c7c7c"/>
<circle cx="513.07" cy="37.99" r="2.0" fill="#7c7c7c"/>
<circle cx="504.19" cy="44.03" r="2.0" fill="#7c7c7c"/>
<circle cx="503.19" cy="50.08" r="2.0" fill="#7c7c7c"/>
<circle cx="498.10" cy="56.12" r="2.0" fill="#7c7c7c"/>
<circle cx="492.54" cy="62.16" r="2.0" fill="#7c7c7c"/>
<circle cx="493.62" cy="68.21" r="2.0" fill="#7c7c7c"/>
<circle cx="494.08" cy="74.25" r="2.0" fill="#7c7c7c"/>
<circle cx="496.55" cy="80.30" r="2.0" fill="#7c7c7c"/>
<circle cx="498.71" cy="86.34" r="2.0" fill="#7c7c7c"/>
<circle cx="499.79" cy="92.38" r="2.0" fill="#7c7c7c"/>
<circle cx="503.58" cy="98.43" r="2.0" fill="#7c7c7c"/>
<circle cx="504.19" cy="104.47" r="2.0" fill="#7c7c7c"/>
<circle cx="508.67" cy="110.52" r="2.0" fill="#7c7c7c"/>
<circle cx="510.60" cy="116.56" r="2.0" fill="#7c7c7c"/>
<circle cx="508.44" cy="122.60" r="2.0" fill="#7c7c7c"/>
<circle cx="509.52" cy="128.65" r="2.0" fill="#7c7c7c"/>
<circle cx="503.96" cy="134.69" r="2.0" fill="#7c7c7c"/>
<circle cx="501.80" cy="140.74" r="2.0" fill="#7c7c7c"/>
<circle cx="499.18" cy="146.78" r="2.0" fill="#7c7c7c"/>
<circle cx="495.32" cy="152.82" r="2.0" fill="#7c7c7c"/>
<circle cx="496.55" cy="158.87" r="2.0" fill="#7c7c7c"/>
<circle cx="494.93" cy="164.91" r="2.0" fill="#7c7c7c"/>
<circle cx="492.54" cy="170.96" r="2.0" fill="#7c7c7c"/>
<circle cx="490.22" cy="177.00" r="2.0" fill="#7c7c7c"/>
<circle cx="491.46" cy="183.04" r="2.0" fill="#7c7c7c"/>
<circle cx="492.38" cy="189.09" r="2.0" fill="#7c7c7c"/>
<circle cx="493.46" cy="195.13" r="2.0" fill="#7c7c7c"/>
<circle cx="494.70" cy="201.18" r="2.0" fill="#7c7c7c"/>
<circle cx="496.01" cy="207.22" r="2.0" fill="#7c7c7c"/>
<circle cx="496.55" cy="213.26" r="2.0" fill="#7c7c7c"/>
<circle cx="498.87" cy="219.31" r="2.0" fill="#7c7c7c"/>
<text x="530.20" y="28.10" font-size="6.1" style="stroke-width:0.05px">1</text>
<text x="530.20" y="34.14" font-size="6.1" style="stroke-width:0.05px">2</text>
<text x="530.20" y="40.19" font-size="6.1" style="stroke-width:0.05px">3</text>
<text x="530.20" y="46.23" font-size="6.1" style="stroke-width:0.05px">4</text>
<text x="530.20" y="52.28" font-size="6.1" style="stroke-width:0.05px">5</text>
<text x="530.20" y="58.32" font-size="6.1" style="stroke-width:0.05px">6</text>
<text x="530.20" y="64.36" font-size="6.1" style="stroke-width:0.05px">7</text>
<text x="530.20" y="70.41" font-size="6.1" style="stroke-width:0.05px">8</text>
<text x="530.20" y="76.45" font-size="6.1" style="stroke-width:0.05px">9</text>
<text x="530.20" y="82.50" font-size="6.1" style="stroke-width:0.05px">10</text>
<text x="530.20" y="88.54" font-size="6.1" style="stroke-width:0.05px">11</text>
<text x="530.20" y="94.58" font-size="6.1" style="stroke-width:0.05px">12</text>
<text x="530.20" y="100.63" font-size="6.1" style="stroke-width:0.05px">13</text>
<text x="530.20" y="106.67" font-size="6.1" style="stroke-width:0.05px">14</text>
<text x="530.20" y="112.72" font-size="6.1" style="stroke-width:0.05px">15</text>
<text x="530.20" y="118.76" font-size="6.1" style="stroke-width:0.05px">16</text>
<text x="530.20" y="124.80" font-size="6.1" style="stroke-width:0.05px">17</text>
<text x="530.20" y="130.85" font-size="6.1" style="stroke-width:0.05px">18</text>
<text x="530.20" y="136.89" font-size="6.1" style="stroke-width:0.05px">19</text>
<text x="530.20" y="142.94" font-size="6.1" style="stroke-width:0.05px">20</text>
<text x="530.20" y="148.98" font-size="6.1" style="stroke-width:0.05px">21</text>
<text x="530.20" y="155.02" font-size="6.1" style="stroke-width:0.05px">22</text>
<text x="530.20" y="161.07" font-size="6.1" style="stroke-width:0.05px">23</text>
<text x="530.20" y="167.11" font-size="6.1" style="stroke-width:0.05px">24</text>
<text x="530.20" y="173.16" font-size="6.1" style="stroke-width:0.05px">25</text>
<text x="530.20" y="179.20" font-size="6.1" style="stroke-width:0.05px">26</text>
<text x="530.20" y="185.24" font-size="6.1" style="stroke-width:0.05px">27</text>
<text x="530.20" y="191.29" font-size="6.1" style="stroke-width:0.05px">28</text>
<text x="530.20" y="197.33" font-size="6.1" style="stroke-width:0.05px">29</text>
<text x="530.20" y="203.38" font-size="6.1" style="stroke-width:0.05px">30</text>
<text x="530.20" y="209.42" font-size="6.1" style="stroke-width:0.05px">31</text>
<text x="530.20" y="215.46" font-size="6.1" style="stroke-width:0.05px">32</text>
<text x="530.20" y="221.51" font-size="6.1" style="stroke-width:0.05px">33</text>
<path d="M482.30 131.60V145.90" stroke="#a8a8a8" stroke-width="1"/>
<circle cx="482.30" cy="138.30" r="2.0" fill="#7c7c7c"/>
<text transform="translate(480.60,150.30) rotate(90)" font-size="6.2" style="stroke-width:0.05px">7-day incidence hospitalization per 100,000 inhabitants</text>
<text transform="translate(541.7,121.8) rotate(90)" font-size="6.4" text-anchor="middle" style="stroke-width:0.3px">study week</text>
</svg></body></html>
